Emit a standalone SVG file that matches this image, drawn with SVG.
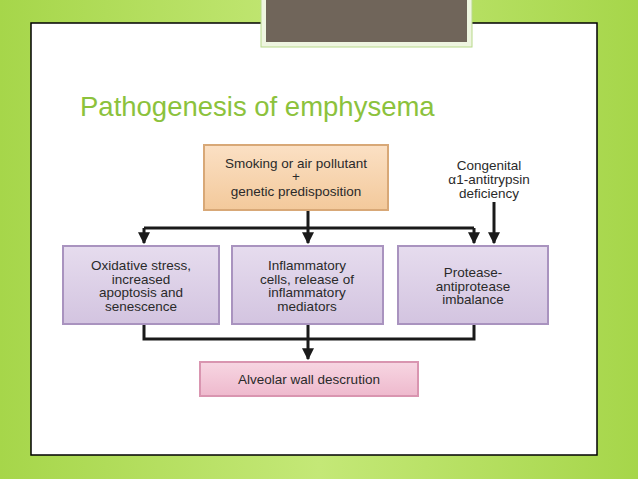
<svg xmlns="http://www.w3.org/2000/svg" width="638" height="479" viewBox="0 0 638 479">
<defs>
<linearGradient id="bg" x1="0" y1="0" x2="1" y2="0">
<stop offset="0" stop-color="#a6d64a"/><stop offset="0.5" stop-color="#c4e877"/><stop offset="1" stop-color="#a6d64a"/>
</linearGradient>
<linearGradient id="tan" x1="0" y1="0" x2="0" y2="1"><stop offset="0" stop-color="#fbe0c4"/><stop offset="1" stop-color="#f3c99b"/></linearGradient>
<linearGradient id="lav" x1="0" y1="0" x2="0" y2="1"><stop offset="0" stop-color="#e6dcee"/><stop offset="1" stop-color="#d3c4e0"/></linearGradient>
<linearGradient id="pink" x1="0" y1="0" x2="0" y2="1"><stop offset="0" stop-color="#f7d6e2"/><stop offset="1" stop-color="#eeb9cd"/></linearGradient>
<marker id="ah" viewBox="0 0 10 10" refX="9" refY="5" markerWidth="4" markerHeight="4" orient="auto"><path d="M0,0L10,5L0,10z" fill="#1a1a1a"/></marker>
</defs>
<style>
.t{font-family:"Liberation Sans",Arial,sans-serif;font-size:13.5px;fill:#2a2a2a;text-anchor:middle}
.c{stroke:#1a1a1a;stroke-width:3;fill:none}
</style>
<rect width="638" height="479" fill="url(#bg)"/>
<rect x="31" y="23" width="566" height="432" fill="#fff" stroke="#000" stroke-width="1.5"/>
<rect x="261" y="-2" width="211" height="49" fill="#eef5e0" stroke="#b8d98a"/>
<rect x="266" y="0" width="201" height="42" fill="#70655a"/>
<text x="80" y="116" font-family="Liberation Sans,Arial,sans-serif" font-size="27.5" fill="#8cc23c">Pathogenesis of emphysema</text>
<g id="connectors">
<path class="c" d="M144 228H474"/>
<path class="c" d="M308 210V243" marker-end="url(#ah)"/>
<path class="c" d="M144 228V243" marker-end="url(#ah)"/>
<path class="c" d="M474 228V243" marker-end="url(#ah)"/>
<path class="c" d="M494 202V243" marker-end="url(#ah)"/>
<path class="c" d="M144 324V339H474V324"/>
<path class="c" d="M308 324V359" marker-end="url(#ah)"/>
</g>
<g id="n-top"><rect x="204" y="145" width="184" height="65" fill="url(#tan)" stroke="#d8a877" stroke-width="2"/>
<text class="t" x="296" y="168">Smoking or air pollutant</text><text class="t" x="296" y="181" font-size="10">+</text><text class="t" x="296" y="196">genetic predisposition</text></g>
<g id="n-cong"><text class="t" x="489" y="170">Congenital</text><text class="t" x="489" y="184">α1-antitrypsin</text><text class="t" x="489" y="198">deficiency</text></g>
<g id="n-ox"><rect x="63" y="246" width="156" height="78" fill="url(#lav)" stroke="#a993bf" stroke-width="2"/>
<text class="t" x="141" y="270">Oxidative stress,</text><text class="t" x="141" y="283.5">increased</text><text class="t" x="141" y="297">apoptosis and</text><text class="t" x="141" y="310.5">senescence</text></g>
<g id="n-inf"><rect x="232" y="246" width="151" height="78" fill="url(#lav)" stroke="#a993bf" stroke-width="2"/>
<text class="t" x="307" y="270">Inflammatory</text><text class="t" x="307" y="283.5">cells, release of</text><text class="t" x="307" y="297">inflammatory</text><text class="t" x="307" y="310.5">mediators</text></g>
<g id="n-pro"><rect x="398" y="246" width="150" height="78" fill="url(#lav)" stroke="#a993bf" stroke-width="2"/>
<text class="t" x="473" y="277">Protease-</text><text class="t" x="473" y="290.5">antiprotease</text><text class="t" x="473" y="304">imbalance</text></g>
<g id="n-alv"><rect x="200" y="362" width="218" height="34" fill="url(#pink)" stroke="#d995b0" stroke-width="2"/>
<text class="t" x="309" y="384">Alveolar wall descrution</text></g>
</svg>
